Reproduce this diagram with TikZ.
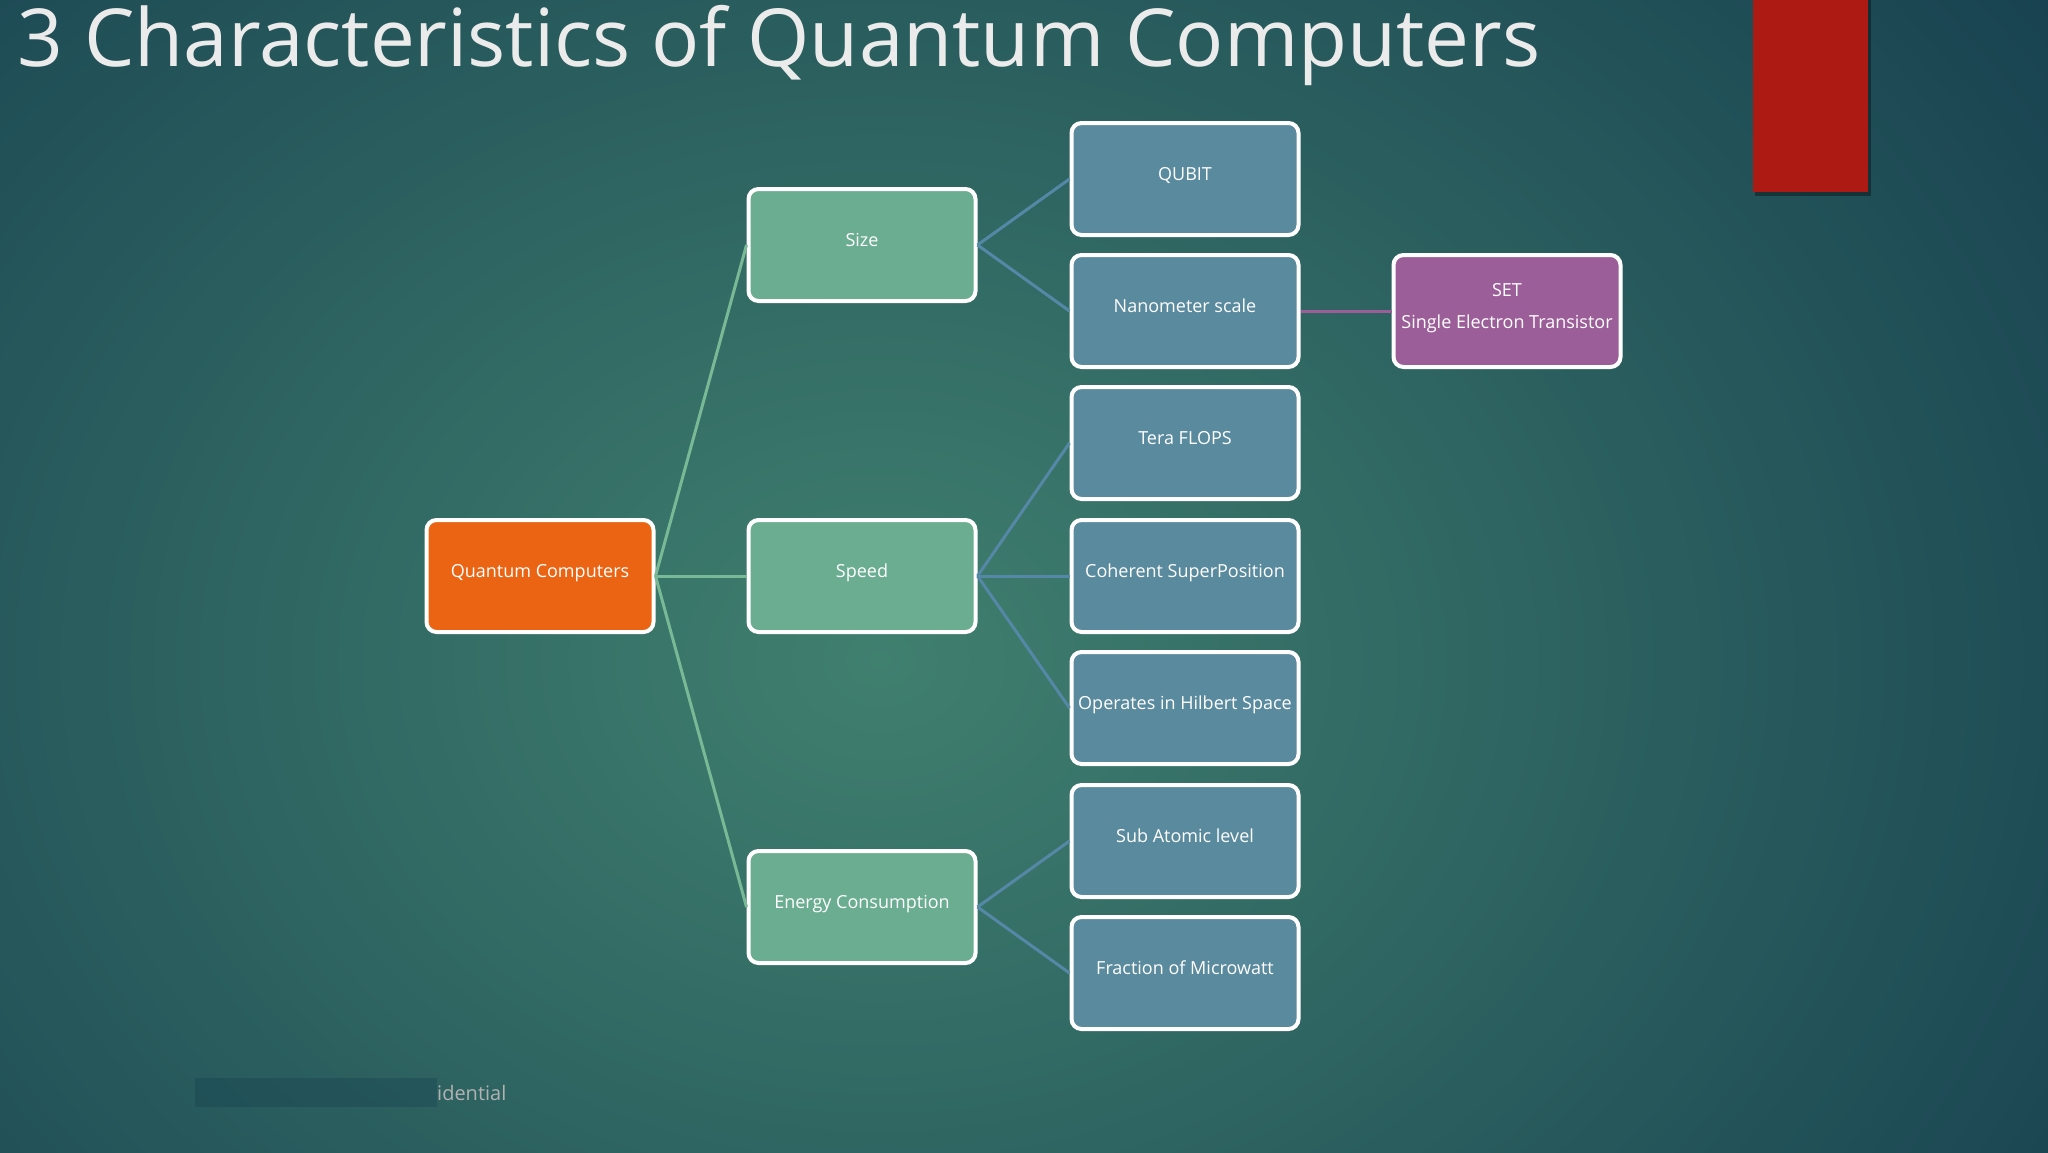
\documentclass[tikz,border=0pt]{standalone}
\usepackage{fontspec}
\setmainfont{Open Sans}
\definecolor{bgdark}{HTML}{163F4F}
\definecolor{bglight}{HTML}{40806F}
\definecolor{qcorange}{HTML}{EA6414}
\definecolor{lvlgreen}{HTML}{6AAD90}
\definecolor{lvlblue}{HTML}{5A8A9E}
\definecolor{setpurple}{HTML}{9C5E98}
\definecolor{linkgreen}{HTML}{79B996}
\definecolor{linkblue}{HTML}{5588A6}
\definecolor{redbar}{HTML}{AD1A14}
\tikzset{
  box/.style={draw=white, line width=4pt, rounded corners=10pt, minimum width=227pt,
    minimum height=112pt, text depth=10pt, text=white, font=\fontsize{18}{32}\selectfont, align=center},
}
\begin{document}
\begin{tikzpicture}[x=1pt, y=-1pt]
  \useasboundingbox (0, 0) rectangle (2048, 1152);
  \begin{scope}
    \clip (0, 0) rectangle (2048, 1152);
    \fill[bgdark] (0, 0) rectangle (2048, 1152);
    \shade[inner color=bglight, outer color=bgdark] (880, 660) ellipse (1500 and 1200);
  \end{scope}

  \fill[black, opacity=0.35] (1755, 0) rectangle (1871, 196);
  \fill[redbar] (1753, 0) rectangle (1868, 192);

  \node[anchor=base west, text=white!92!black, font=\fontsize{80}{90}\selectfont] (title) at (14, 66) {3 Characteristics of Quantum Computers};

  \fill[bgdark, opacity=0.35] (195, 1078) rectangle (437, 1107);
  \node[anchor=base west, text=gray!60!white, font=\fontsize{20}{24}\selectfont, inner sep=0pt] (conf) at (437, 1100) {idential};

  \node[box, fill=qcorange] (qc) at (540, 576) {Quantum Computers};
  \node[box, fill=lvlgreen] (size) at (862, 245) {Size};
  \node[box, fill=lvlgreen] (speed) at (862, 576) {Speed};
  \node[box, fill=lvlgreen] (energy) at (862, 907) {Energy Consumption};

  \node[box, fill=lvlblue] (qubit) at (1185, 179) {QUBIT};
  \node[box, fill=lvlblue] (nano) at (1185, 311) {Nanometer scale};
  \node[box, fill=lvlblue] (tera) at (1185, 443) {Tera FLOPS};
  \node[box, fill=lvlblue] (coherent) at (1185, 576) {Coherent SuperPosition};
  \node[box, fill=lvlblue] (hilbert) at (1185, 708) {Operates in Hilbert Space};
  \node[box, fill=lvlblue] (subatomic) at (1185, 841) {Sub Atomic level};
  \node[box, fill=lvlblue] (microwatt) at (1185, 973) {Fraction of Microwatt};

  \node[box, fill=setpurple] (set) at (1507, 311) {SET\\Single Electron Transistor};

  \draw[linkgreen, line width=3pt] (qc.east) -- (size.west);
  \draw[linkgreen, line width=3pt] (qc.east) -- (speed.west);
  \draw[linkgreen, line width=3pt] (qc.east) -- (energy.west);

  \draw[linkblue, line width=3pt] (size.east) -- (qubit.west);
  \draw[linkblue, line width=3pt] (size.east) -- (nano.west);
  \draw[linkblue, line width=3pt] (speed.east) -- (tera.west);
  \draw[linkblue, line width=3pt] (speed.east) -- (coherent.west);
  \draw[linkblue, line width=3pt] (speed.east) -- (hilbert.west);
  \draw[linkblue, line width=3pt] (energy.east) -- (subatomic.west);
  \draw[linkblue, line width=3pt] (energy.east) -- (microwatt.west);

  \draw[setpurple, line width=3pt] (nano.east) -- (set.west);
\end{tikzpicture}
\end{document}
